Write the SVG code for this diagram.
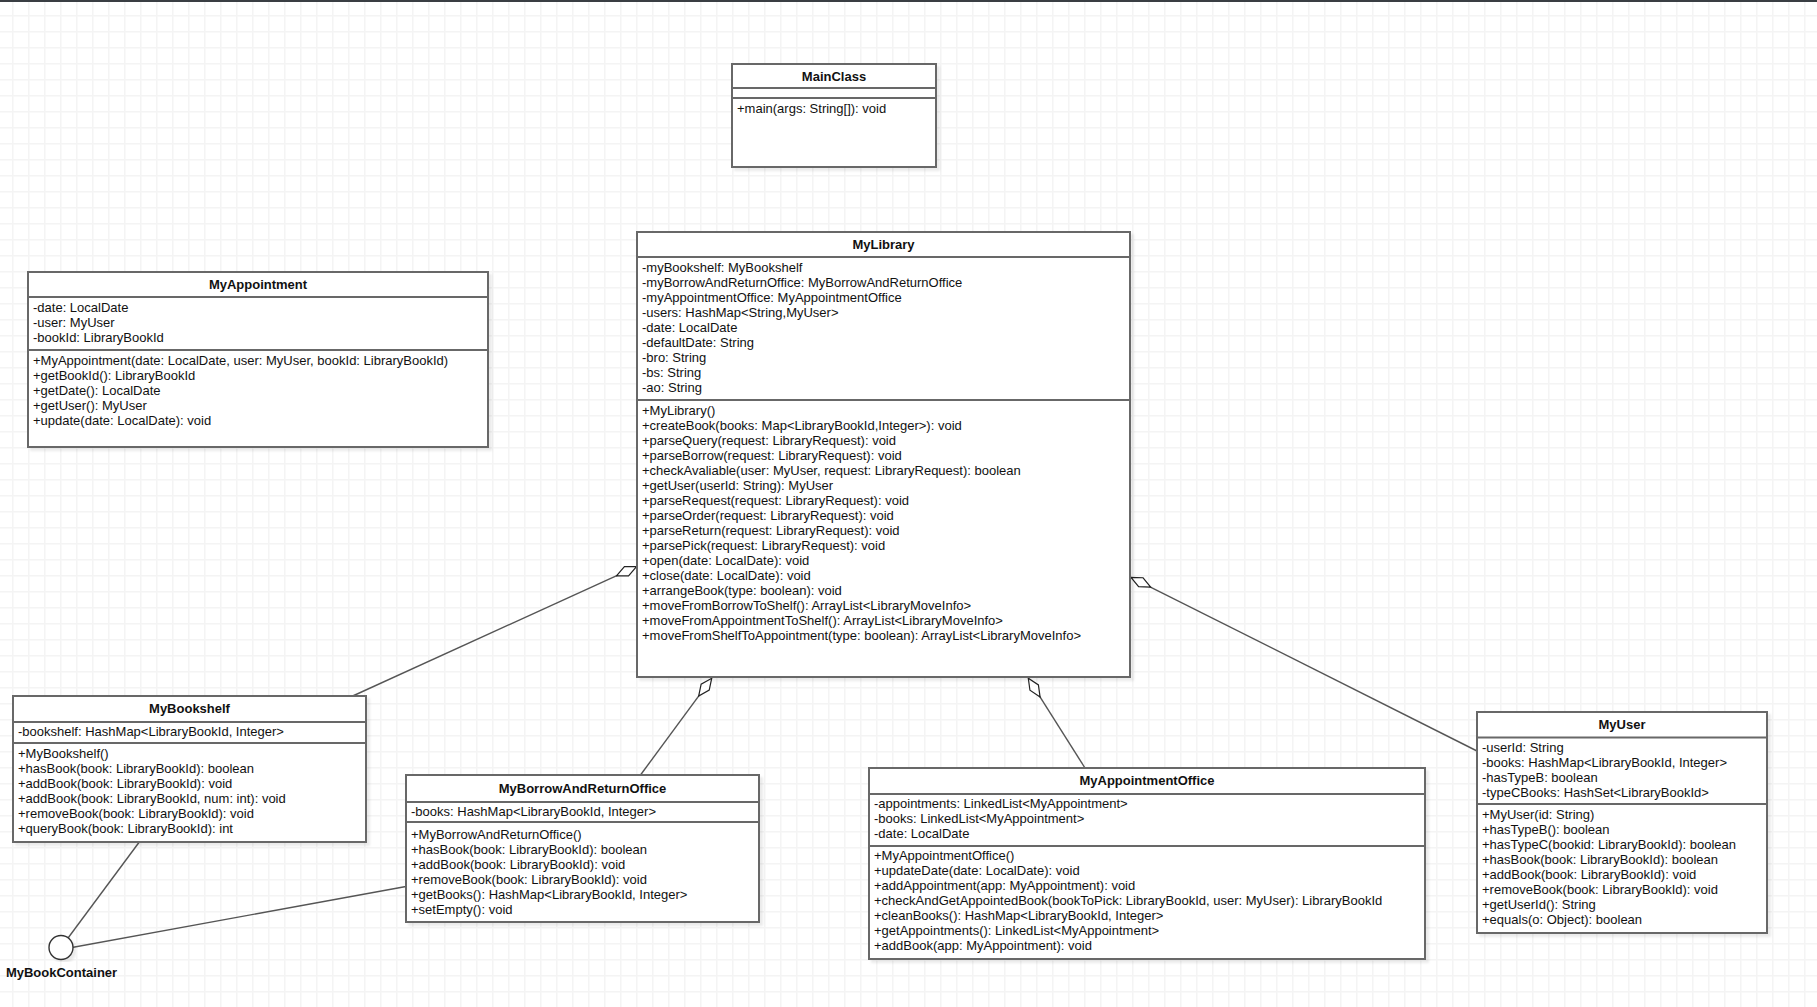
<svg xmlns="http://www.w3.org/2000/svg" width="1817" height="1007" viewBox="0 0 1817 1007">
<style>
  .box { fill: #ffffff; stroke: #686868; stroke-width: 2; filter: url(#shadow); }
  .sep { stroke: #686868; stroke-width: 2; }
  .title { font-family: "Liberation Sans", Arial, sans-serif; font-size: 13px; font-weight: bold; fill: #111; text-anchor: middle; }
  .txt { font-family: "Liberation Sans", Arial, sans-serif; font-size: 13px; fill: #111; }
  .conn { fill: none; stroke: #555555; stroke-width: 1.4; }
</style>
<defs>
  <pattern id="grid" x="12" y="15" width="16" height="16" patternUnits="userSpaceOnUse">
    <rect x="0" y="0" width="16" height="1.5" fill="#f4f4f4"/>
    <rect x="0" y="0" width="1.5" height="16" fill="#f4f4f4"/>
  </pattern>
  <filter id="shadow" x="-5%" y="-5%" width="115%" height="115%">
    <feDropShadow dx="3" dy="3" stdDeviation="1" flood-color="#000" flood-opacity="0.08"/>
  </filter>
  <marker id="diamond" markerUnits="userSpaceOnUse" viewBox="-1 -6 24 12" refX="22" refY="0" markerWidth="24" markerHeight="12" orient="auto">
    <path d="M0,0 L11,-5 L22,0 L11,5 Z" fill="#ffffff" stroke="#222" stroke-width="1.2"/>
  </marker>
</defs>
<rect x="0" y="0" width="1817" height="1007" fill="#ffffff"/>
<rect x="0" y="0" width="1817" height="1007" fill="url(#grid)"/>
<rect x="0" y="0" width="1817" height="2" fill="#3a3e43"/>

<g id="connectors">
  <path class="conn" d="M352.7,696 L636.5,566.7" marker-end="url(#diamond)"/>
  <path class="conn" d="M640.5,775 L711.7,678.3" marker-end="url(#diamond)"/>
  <path class="conn" d="M1085,768 L1028.3,678.3" marker-end="url(#diamond)"/>
  <path class="conn" d="M1477,751 L1131,577.3" marker-end="url(#diamond)"/>
  <path class="conn" d="M139.3,842 L61,947.5"/>
  <path class="conn" d="M61,949.5 L406,886.5"/>
</g>

<g id="MainClass">
  <rect class="box" x="732" y="64" width="204" height="103"/>
  <line class="sep" x1="732" y1="88" x2="936" y2="88"/>
  <line class="sep" x1="732" y1="98" x2="936" y2="98"/>
  <text class="title" x="834" y="80.5">MainClass</text>
  <text class="txt" x="737" y="112.5">+main(args: String[]): void</text>
</g>

<g id="MyAppointment">
  <rect class="box" x="28" y="272" width="460" height="175"/>
  <line class="sep" x1="28" y1="297" x2="488" y2="297"/>
  <line class="sep" x1="28" y1="350" x2="488" y2="350"/>
  <text class="title" x="258" y="288.5">MyAppointment</text>
  <text class="txt" x="33" y="311.5">-date: LocalDate<tspan x="33" dy="15">-user: MyUser</tspan><tspan x="33" dy="15">-bookId: LibraryBookId</tspan></text>
  <text class="txt" x="33" y="364.5">+MyAppointment(date: LocalDate, user: MyUser, bookId: LibraryBookId)<tspan x="33" dy="15">+getBookId(): LibraryBookId</tspan><tspan x="33" dy="15">+getDate(): LocalDate</tspan><tspan x="33" dy="15">+getUser(): MyUser</tspan><tspan x="33" dy="15">+update(date: LocalDate): void</tspan></text>
</g>

<g id="MyLibrary">
  <rect class="box" x="637" y="232" width="493" height="445"/>
  <line class="sep" x1="637" y1="257" x2="1130" y2="257"/>
  <line class="sep" x1="637" y1="400" x2="1130" y2="400"/>
  <text class="title" x="883.5" y="248.5">MyLibrary</text>
  <text class="txt" x="642" y="271.5">-myBookshelf: MyBookshelf<tspan x="642" dy="15">-myBorrowAndReturnOffice: MyBorrowAndReturnOffice</tspan><tspan x="642" dy="15">-myAppointmentOffice: MyAppointmentOffice</tspan><tspan x="642" dy="15">-users: HashMap&lt;String,MyUser&gt;</tspan><tspan x="642" dy="15">-date: LocalDate</tspan><tspan x="642" dy="15">-defaultDate: String</tspan><tspan x="642" dy="15">-bro: String</tspan><tspan x="642" dy="15">-bs: String</tspan><tspan x="642" dy="15">-ao: String</tspan></text>
  <text class="txt" x="642" y="414.5">+MyLibrary()<tspan x="642" dy="15">+createBook(books: Map&lt;LibraryBookId,Integer&gt;): void</tspan><tspan x="642" dy="15">+parseQuery(request: LibraryRequest): void</tspan><tspan x="642" dy="15">+parseBorrow(request: LibraryRequest): void</tspan><tspan x="642" dy="15">+checkAvaliable(user: MyUser, request: LibraryRequest): boolean</tspan><tspan x="642" dy="15">+getUser(userId: String): MyUser</tspan><tspan x="642" dy="15">+parseRequest(request: LibraryRequest): void</tspan><tspan x="642" dy="15">+parseOrder(request: LibraryRequest): void</tspan><tspan x="642" dy="15">+parseReturn(request: LibraryRequest): void</tspan><tspan x="642" dy="15">+parsePick(request: LibraryRequest): void</tspan><tspan x="642" dy="15">+open(date: LocalDate): void</tspan><tspan x="642" dy="15">+close(date: LocalDate): void</tspan><tspan x="642" dy="15">+arrangeBook(type: boolean): void</tspan><tspan x="642" dy="15">+moveFromBorrowToShelf(): ArrayList&lt;LibraryMoveInfo&gt;</tspan><tspan x="642" dy="15">+moveFromAppointmentToShelf(): ArrayList&lt;LibraryMoveInfo&gt;</tspan><tspan x="642" dy="15">+moveFromShelfToAppointment(type: boolean): ArrayList&lt;LibraryMoveInfo&gt;</tspan></text>
</g>

<g id="MyBookshelf">
  <rect class="box" x="13" y="696" width="353" height="146"/>
  <line class="sep" x1="13" y1="722" x2="366" y2="722"/>
  <line class="sep" x1="13" y1="743" x2="366" y2="743"/>
  <text class="title" x="189.5" y="712.5">MyBookshelf</text>
  <text class="txt" x="18" y="736">-bookshelf: HashMap&lt;LibraryBookId, Integer&gt;</text>
  <text class="txt" x="18" y="757.5">+MyBookshelf()<tspan x="18" dy="15">+hasBook(book: LibraryBookId): boolean</tspan><tspan x="18" dy="15">+addBook(book: LibraryBookId): void</tspan><tspan x="18" dy="15">+addBook(book: LibraryBookId, num: int): void</tspan><tspan x="18" dy="15">+removeBook(book: LibraryBookId): void</tspan><tspan x="18" dy="15">+queryBook(book: LibraryBookId): int</tspan></text>
</g>

<g id="MyBorrowAndReturnOffice">
  <rect class="box" x="406" y="775" width="353" height="147"/>
  <line class="sep" x1="406" y1="802" x2="759" y2="802"/>
  <line class="sep" x1="406" y1="822" x2="759" y2="822"/>
  <text class="title" x="582.5" y="792.5">MyBorrowAndReturnOffice</text>
  <text class="txt" x="411" y="816">-books: HashMap&lt;LibraryBookId, Integer&gt;</text>
  <text class="txt" x="411" y="838.5">+MyBorrowAndReturnOffice()<tspan x="411" dy="15">+hasBook(book: LibraryBookId): boolean</tspan><tspan x="411" dy="15">+addBook(book: LibraryBookId): void</tspan><tspan x="411" dy="15">+removeBook(book: LibraryBookId): void</tspan><tspan x="411" dy="15">+getBooks(): HashMap&lt;LibraryBookId, Integer&gt;</tspan><tspan x="411" dy="15">+setEmpty(): void</tspan></text>
</g>

<g id="MyAppointmentOffice">
  <rect class="box" x="869" y="768" width="556" height="191"/>
  <line class="sep" x1="869" y1="794" x2="1425" y2="794"/>
  <line class="sep" x1="869" y1="846" x2="1425" y2="846"/>
  <text class="title" x="1147" y="784.5">MyAppointmentOffice</text>
  <text class="txt" x="874" y="807.5">-appointments: LinkedList&lt;MyAppointment&gt;<tspan x="874" dy="15">-books: LinkedList&lt;MyAppointment&gt;</tspan><tspan x="874" dy="15">-date: LocalDate</tspan></text>
  <text class="txt" x="874" y="860">+MyAppointmentOffice()<tspan x="874" dy="15">+updateDate(date: LocalDate): void</tspan><tspan x="874" dy="15">+addAppointment(app: MyAppointment): void</tspan><tspan x="874" dy="15">+checkAndGetAppointedBook(bookToPick: LibraryBookId, user: MyUser): LibraryBookId</tspan><tspan x="874" dy="15">+cleanBooks(): HashMap&lt;LibraryBookId, Integer&gt;</tspan><tspan x="874" dy="15">+getAppointments(): LinkedList&lt;MyAppointment&gt;</tspan><tspan x="874" dy="15">+addBook(app: MyAppointment): void</tspan></text>
</g>

<g id="MyUser">
  <rect class="box" x="1477" y="712" width="290" height="221"/>
  <line class="sep" x1="1477" y1="737.5" x2="1767" y2="737.5"/>
  <line class="sep" x1="1477" y1="804" x2="1767" y2="804"/>
  <text class="title" x="1622" y="728.5">MyUser</text>
  <text class="txt" x="1482" y="751.5">-userId: String<tspan x="1482" dy="15">-books: HashMap&lt;LibraryBookId, Integer&gt;</tspan><tspan x="1482" dy="15">-hasTypeB: boolean</tspan><tspan x="1482" dy="15">-typeCBooks: HashSet&lt;LibraryBookId&gt;</tspan></text>
  <text class="txt" x="1482" y="818.5">+MyUser(id: String)<tspan x="1482" dy="15">+hasTypeB(): boolean</tspan><tspan x="1482" dy="15">+hasTypeC(bookid: LibraryBookId): boolean</tspan><tspan x="1482" dy="15">+hasBook(book: LibraryBookId): boolean</tspan><tspan x="1482" dy="15">+addBook(book: LibraryBookId): void</tspan><tspan x="1482" dy="15">+removeBook(book: LibraryBookId): void</tspan><tspan x="1482" dy="15">+getUserId(): String</tspan><tspan x="1482" dy="15">+equals(o: Object): boolean</tspan></text>
</g>

<g id="MyBookContainer">
  <circle cx="61" cy="947.5" r="12" fill="#ffffff" stroke="#333" stroke-width="1.4" filter="url(#shadow)"/>
  <text class="title" x="61.5" y="977">MyBookContainer</text>
</g>
</svg>
